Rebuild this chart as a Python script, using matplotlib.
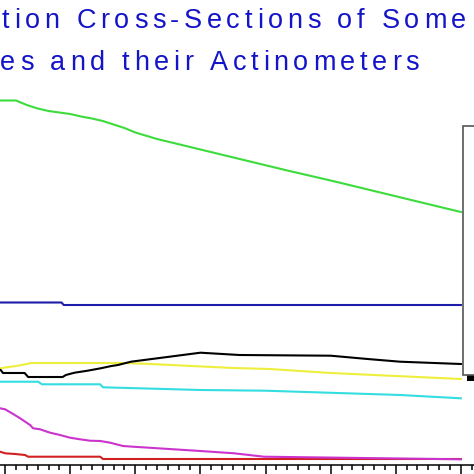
import numpy as np
import matplotlib.pyplot as plt
from matplotlib import font_manager
from matplotlib.ft2font import FT2Font
from matplotlib.patches import Rectangle

# wavelength (nm) and cross-section values (arbitrary units)
green_x = [205, 215, 220, 225, 230, 235, 240, 245, 250, 255, 260, 265, 270,
           280, 300, 320, 340, 360, 380, 400, 420]
green_y = [3.645, 3.645, 3.60, 3.565, 3.54, 3.525, 3.51, 3.485, 3.465, 3.44,
           3.405, 3.37, 3.325, 3.26, 3.155, 3.05, 2.945, 2.845, 2.74, 2.635, 2.53]

blue_x = [205, 236, 237, 420]
blue_y = [1.625, 1.625, 1.60, 1.60]

yellow_x = [205, 210, 215, 220, 222, 265, 277, 315, 332, 360, 420]
yellow_y = [0.955, 0.975, 0.99, 1.01, 1.02, 1.02, 1.01, 0.97, 0.96, 0.92, 0.86]

black_x = [205, 208, 209, 219, 220.6, 236.5, 238, 242, 248, 254, 259, 262, 268,
           300, 318, 360, 377, 392, 420]
black_y = [0.96, 0.95, 0.92, 0.92, 0.88, 0.88, 0.90, 0.923, 0.943, 0.967, 0.99,
           1.00, 1.033, 1.123, 1.10, 1.093, 1.06, 1.033, 1.01]

cyan_x = [205, 225.2, 227, 253.8, 255.1, 300, 330, 392, 420]
cyan_y = [0.833, 0.833, 0.807, 0.807, 0.777, 0.75, 0.743, 0.70, 0.667]

magenta_x = [205, 207.7, 210, 213.7, 216.9, 221.5, 222.9, 226.1, 230.7, 235.3,
             239.9, 244.5, 249.1, 253.8, 258.4, 264.3, 268.9, 300, 315.5, 329.3, 420]
magenta_y = [0.57, 0.567, 0.557, 0.51, 0.467, 0.40, 0.367, 0.357, 0.323, 0.30,
             0.273, 0.257, 0.243, 0.24, 0.223, 0.19, 0.183, 0.14, 0.117, 0.083, 0.057]

red_x = [205, 207.7, 210, 214.6, 219.2, 220.6, 253.8, 255.1, 420]
red_y = [0.14, 0.133, 0.117, 0.11, 0.10, 0.083, 0.083, 0.06, 0.06]

title_1 = "Absorption Cross-Sections of Some"
title_2 = "Pesticides and their Actinometers"

W, H = 474, 474
fig = plt.figure(figsize=(W / 100, H / 100), dpi=100)
ax = fig.add_axes([-60 / W, 9 / H, 586 / W, 375 / H])

lw = 1.5
ax.plot(green_x, green_y, color='#3cdc3c', lw=lw)
ax.plot(blue_x, blue_y, color='#1c1caa', lw=lw)
ax.plot(yellow_x, yellow_y, color='#eeee3c', lw=lw)
ax.plot(black_x, black_y, color='black', lw=lw)
ax.plot(cyan_x, cyan_y, color='#33dde0', lw=lw)
ax.plot(red_x, red_y, color='#d02020', lw=lw)
ax.plot(magenta_x, magenta_y, color='#cc33cc', lw=lw)

ax.set_xlim(180, 450)
ax.set_ylim(0, 3.75)
ax.set_xticks(np.arange(180, 451, 30))
ax.set_xticks(np.arange(180, 451, 5), minor=True)
ax.set_yticks([])
for s in ['left', 'top', 'right']:
    ax.spines[s].set_visible(False)
ax.spines['bottom'].set_linewidth(1.1)
ax.tick_params(axis='x', which='major', length=7, width=1.1, direction='out',
               labelbottom=False)
ax.tick_params(axis='x', which='minor', length=3.3, width=1.1, direction='out')


def tracked_text(x_right, y, s, size, color, track):
    # spaced-out lettering, right aligned at x_right (pixels)
    prop = font_manager.FontProperties(family='Liberation Sans', size=size)
    font = FT2Font(font_manager.findfont(prop), hinting_factor=1)
    font.set_size(size, fig.dpi)
    adv = [font.load_char(ord(c)).linearHoriAdvance / 65536 + track for c in s]
    x = x_right - sum(adv) + track
    for c, a in zip(s, adv):
        # letters that fall outside the crop are not drawn
        if c != ' ' and x >= -2.5:
            fig.text(x / W, y / H, c, fontproperties=prop, color=color,
                     ha='left', va='baseline')
        x += a


tracked_text(466, H - 28.5, title_1, 19.5, '#1414c8', 4.7)
tracked_text(419, H - 70, title_2, 19.5, '#1414c8', 4.7)

# legend frame, mostly outside the crop
fig.patches.append(Rectangle((467 / W, (H - 381) / H), 30 / W, 250 / H,
                             transform=fig.transFigure, facecolor='black',
                             edgecolor='none', zorder=1))
fig.patches.append(Rectangle((463 / W, (H - 375) / H), 30 / W, 249 / H,
                             transform=fig.transFigure, facecolor='white',
                             edgecolor='#555555', lw=1.2, zorder=2))

fig.savefig('out.png', dpi=100)
